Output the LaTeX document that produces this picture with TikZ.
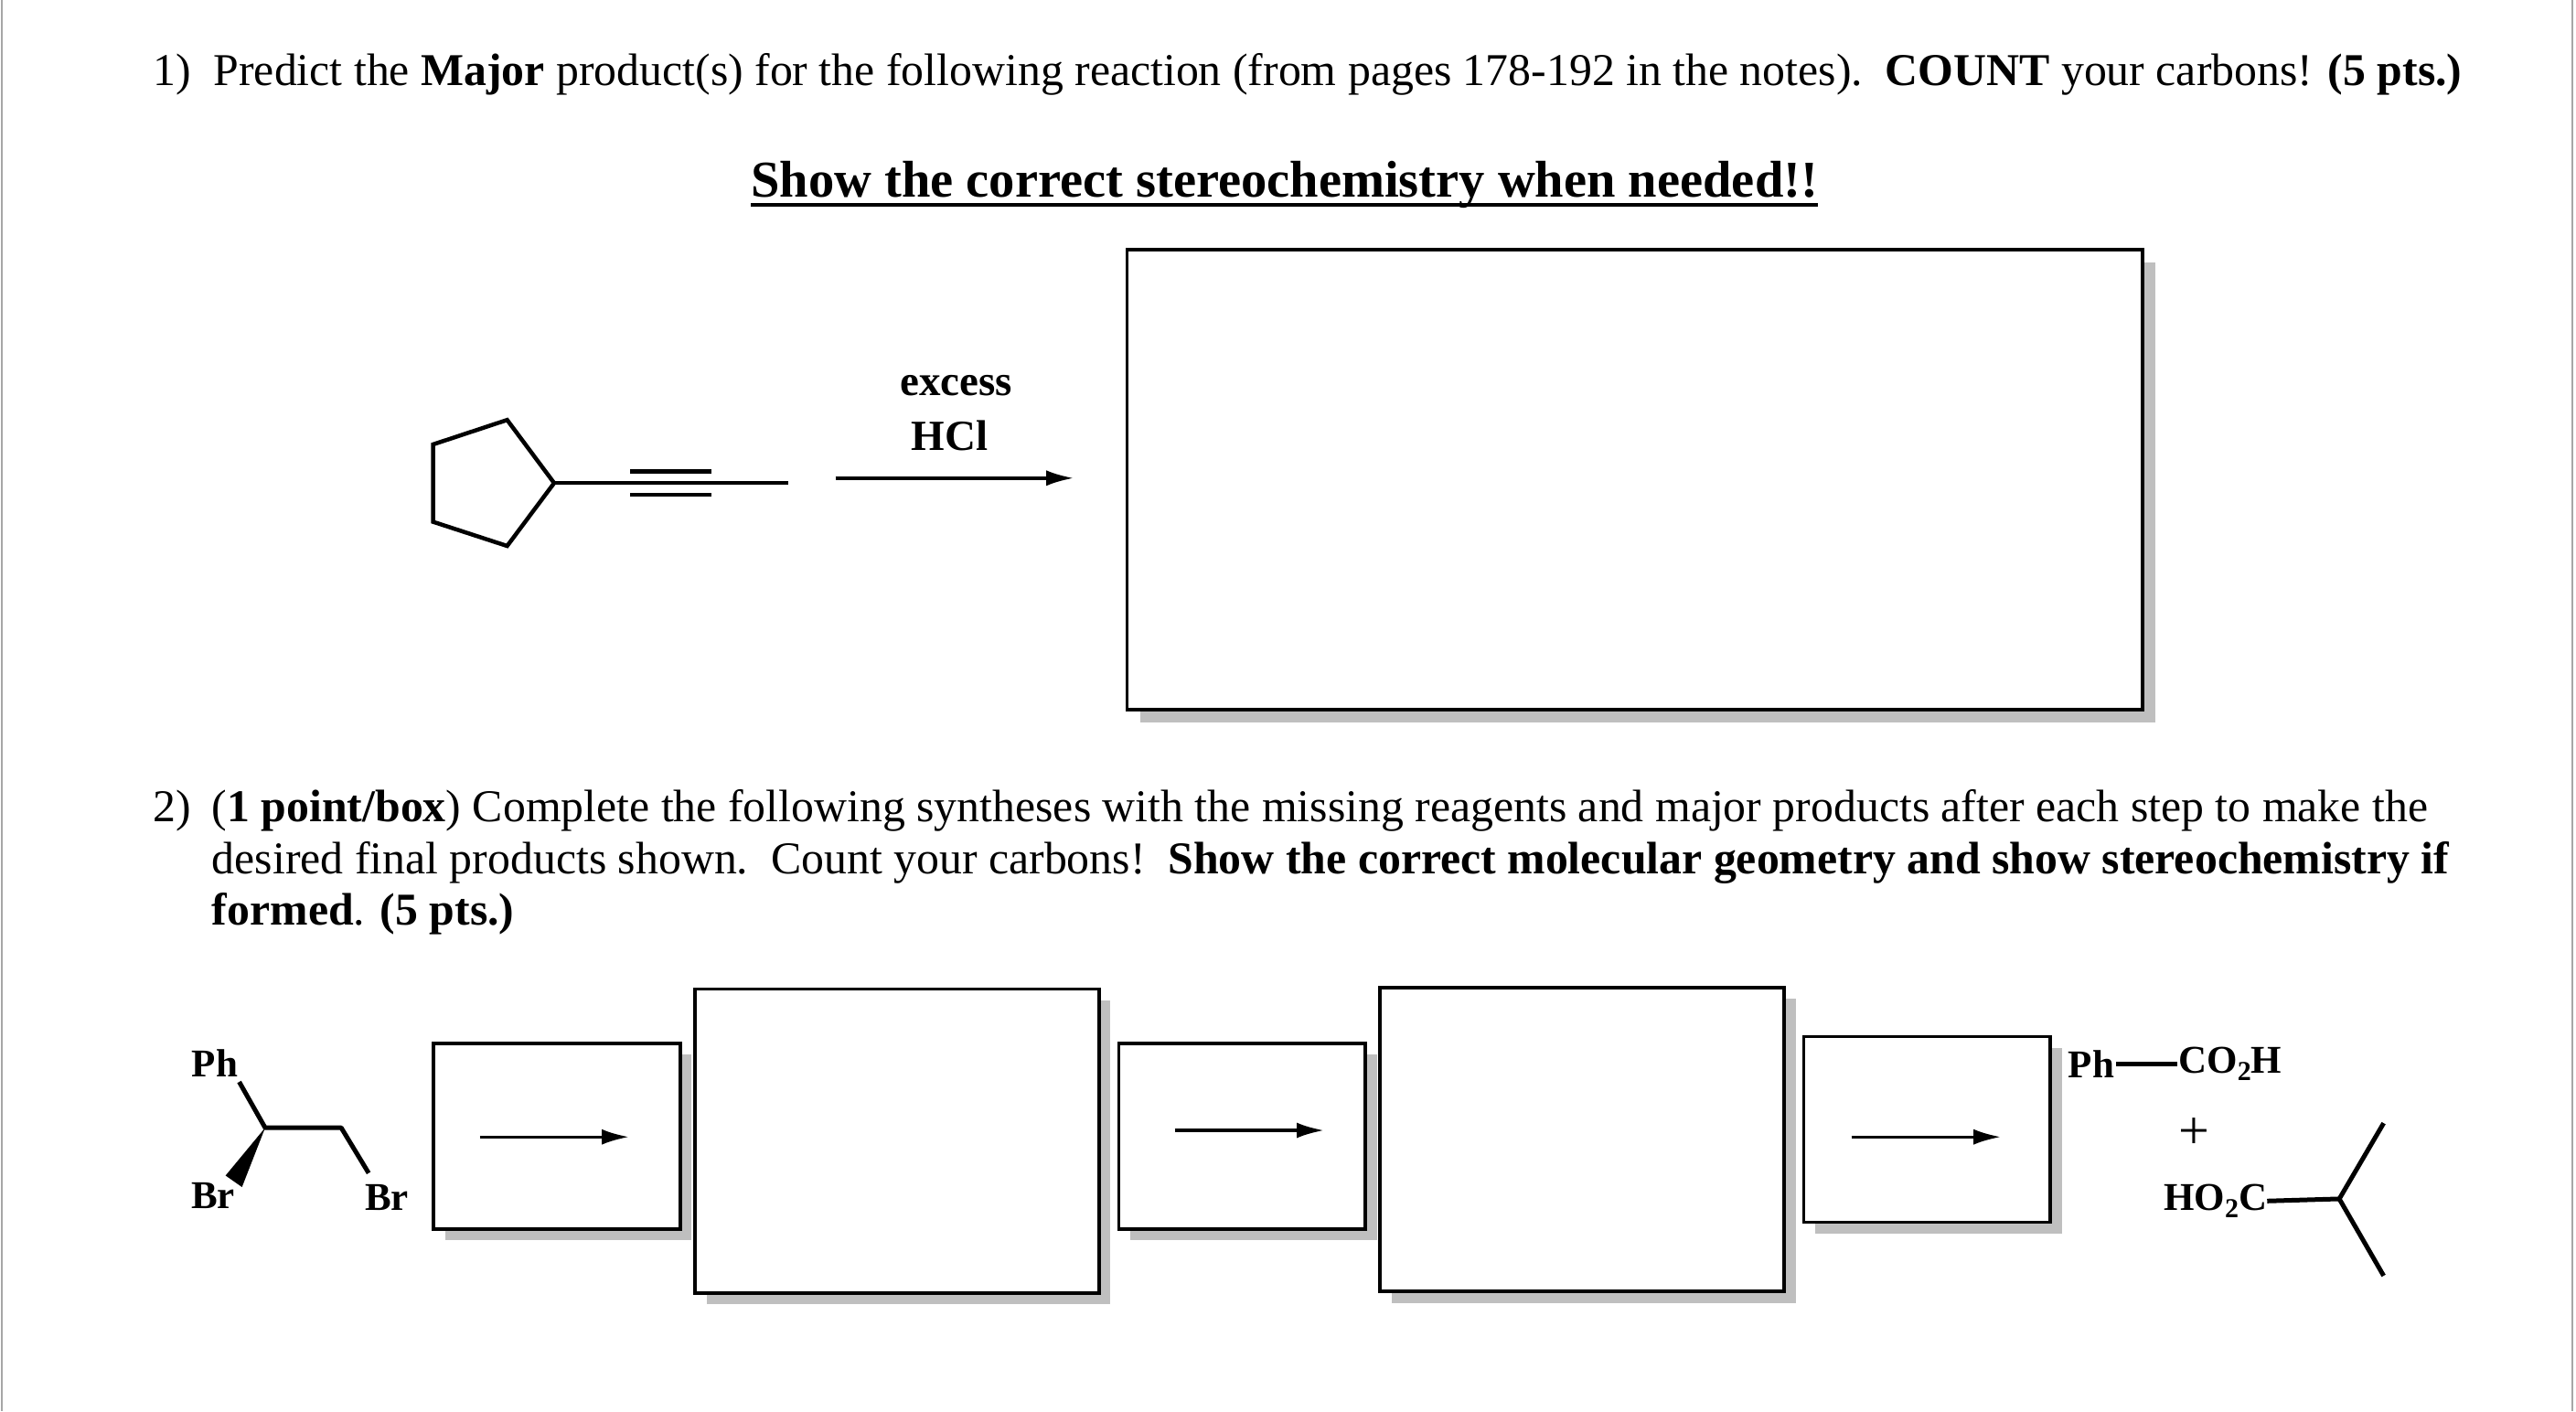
\documentclass[tikz,border=0pt]{standalone}
\usepackage{fontspec}
\setmainfont{Liberation Serif}
\usetikzlibrary{arrows.meta}
\newcommand\subtwo{\raisebox{-0.4ex}{\fontsize{30}{30}\selectfont 2}}
\begin{document}
\begin{tikzpicture}[x=1.7966pt,y=-1.7966pt,
  bnd/.style={line width=5pt},
  thinb/.style={line width=4.5pt},
  ansbox/.style={draw,line width=3.6pt,fill=white},
  shadow/.style={fill=black!25},
  rarrow/.style={line width=3.4pt,-{Latex[length=30pt,width=17pt]}},
  body/.style={font=\fontsize{49.8}{60}\selectfont,inner sep=0,anchor=base west},
  chem/.style={font=\fontsize{43}{43}\selectfont\bfseries,inner sep=0},
  reag/.style={font=\fontsize{47}{47}\selectfont\bfseries,inner sep=0}]
\useasboundingbox (0,0) rectangle (1568,859);
\fill[white] (0,0) rectangle (1568,859);
\draw[black!35,line width=2pt] (1,0)--(1,859);
\draw[black!35,line width=2pt] (1566,0)--(1566,859);
% Q1 text
\node[body] (t1) at (93,52) {1)\ \ Predict the \textbf{Major} product(s) for the following reaction (from pages 178-192 in the notes).\ \ \textbf{COUNT} your carbons! \textbf{(5 pts.)}};
\node[body,font=\fontsize{56.5}{60}\selectfont] (t2) at (457,120) {\textbf{Show the correct stereochemistry when needed!!}};
\draw[line width=4pt] (457,124.5) -- (t2.east |- 0,124.5);
% box 1
\fill[shadow] (694,160) rectangle (1312,440);
\draw[ansbox] (686,152) rectangle (1304,432);
% cyclopentane
\coordinate (p1) at (263.6,270.5);
\coordinate (p2) at (308.7,255.6);
\coordinate (p3) at (337.3,294);
\coordinate (p4) at (308.7,332.3);
\coordinate (p5) at (263.6,317.6);
\coordinate (ae) at (480,294);
\draw[thinb,line join=miter] (p1)--(p2)--(p3)--(p4)--(p5)--cycle;
\draw[thinb] (p3)--(ae);
\coordinate (u1) at (383.6,287); \coordinate (u2) at (433,287);
\coordinate (l1) at (383.6,301); \coordinate (l2) at (433,301);
\draw[thinb] (u1)--(u2);
\draw[thinb] (l1)--(l2);
\coordinate (a1s) at (508.6,291); \coordinate (a1e) at (653.6,291);
\draw[rarrow] (a1s)--(a1e);
\node[reag] (ex) at (582,234.7) {excess};
\node[reag] (hcl) at (578,265) {HCl};
% Q2 text
\node[body] (q1) at (93,500) {2)};
\node[body] (q2) at (129,500) {(\textbf{1 point/box}) Complete the following syntheses with the missing reagents and major products after each step to make the};
\node[body] (q3) at (129,532) {desired final products shown.\ \ Count your carbons!\ \ \textbf{Show the correct molecular geometry and show stereochemistry if}};
\node[body] (q4) at (129,563) {\textbf{formed}. \textbf{(5 pts.)}};
% boxes
\foreach \n/\xa/\ya/\xb/\yb in {A/264/635/414/748, B/423/602/669/787, C/681/635/831/748, D/840/601/1086/786, E/1098/631/1248/744}{
  \fill[shadow] (\xa+7,\ya+7) rectangle (\xb+7,\yb+7);
  \draw[ansbox] (\xa,\ya) rectangle (\xb,\yb);
}
\coordinate (aas) at (292,692); \coordinate (aae) at (383,692);
\coordinate (acs) at (715,688); \coordinate (ace) at (806,688);
\coordinate (aes) at (1127,692); \coordinate (aee) at (1218,692);
\draw[rarrow] (aas)--(aae);
\draw[rarrow] (acs)--(ace);
\draw[rarrow] (aes)--(aee);
% starting material
\node[chem] (ph) at (130.8,647) {Ph};
\node[chem] (br1) at (129.8,728) {Br};
\node[chem] (br2) at (235.5,729) {Br};
\coordinate (c1) at (161.4,686.4);
\coordinate (c2) at (207.7,686.4);
\coordinate (phb) at (145.6,658.5);
\coordinate (brb) at (224.4,714);
\draw[bnd,line join=round] (phb)--(c1)--(c2)--(brb);
\fill (c1)--(137.3,715.5)--(147.3,722.5)--cycle;
% products
\node[chem] (ph2) at (1273,647.4) {Ph};
\node[chem,anchor=west] (co2h) at (1326,647.4) {CO\subtwo H};
\draw[bnd] ([xshift=2pt]ph2.east) -- ([xshift=-1pt]co2h.west);
\node[chem,font=\fontsize{60}{60}\selectfont] (plus) at (1335.8,690) {+};
\node[chem,anchor=east] (ho2c) at (1380,731) {HO\subtwo C};
\coordinate (q) at (1423.9,729.7);
\coordinate (m1) at (1450.9,683.6);
\coordinate (m2) at (1450.9,776.5);
\draw[bnd] (ho2c.east)--(q);
\draw[bnd,line join=miter] (m1)--(q)--(m2);
\end{tikzpicture}
\end{document}
